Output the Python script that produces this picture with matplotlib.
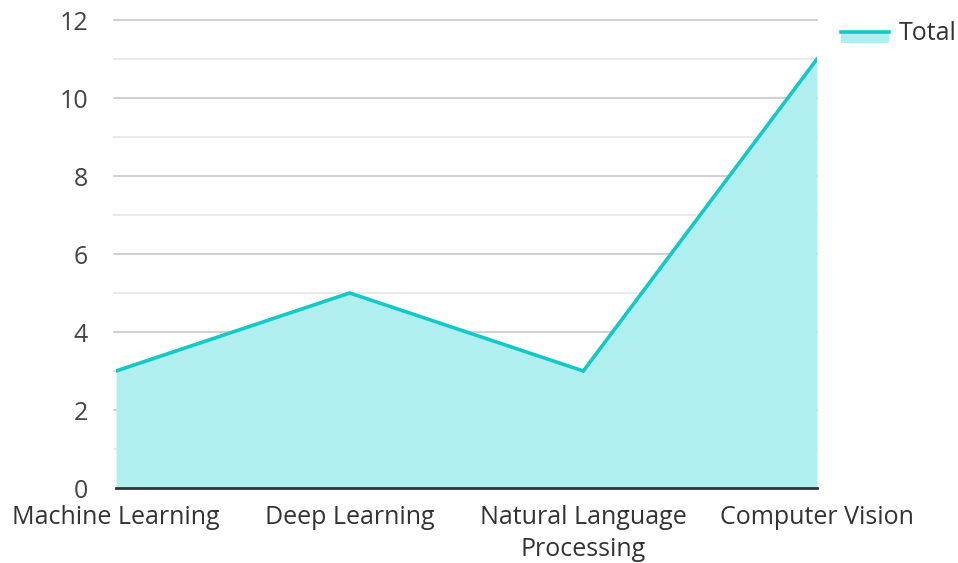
import matplotlib.pyplot as plt
from matplotlib.patches import Rectangle
from matplotlib.lines import Line2D
from matplotlib.legend_handler import HandlerBase

plt.rcParams["font.family"] = ["Open Sans", "DejaVu Sans"]

categories = ["Machine Learning", "Deep Learning", "Natural Language\nProcessing", "Computer Vision"]
totals = [3, 5, 3, 11]
y_ticks = [0, 2, 4, 6, 8, 10, 12]

line_color = "#14c8c8"
fill_color = "#b0efef"


class AreaHandler(HandlerBase):
    # legend marker: filled box with a thick line on its top edge
    def create_artists(self, legend, orig_handle, xdescent, ydescent, width, height, fontsize, trans):
        top = -ydescent + height * 0.45
        box = Rectangle((-xdescent, top - 8), width, 8,
                        facecolor=fill_color, edgecolor="none", transform=trans)
        ln = Line2D([-xdescent, -xdescent + width], [top, top], color=line_color, lw=2.6, transform=trans)
        return [box, ln]


fig = plt.figure(figsize=(9.58, 5.63), dpi=100)
ax = fig.add_axes([116 / 958, 1 - 488 / 563, (817 - 116) / 958, (488 - 20) / 563])

x = list(range(len(categories)))
ax.fill_between(x, totals, 0, color=fill_color, lw=0, zorder=2)
ax.plot(x, totals, color=line_color, lw=2.6, zorder=3, solid_joinstyle="miter")

ax.set_xlim(0, len(categories) - 1)
ax.set_ylim(0, 12)
ax.set_xticks(x)
ax.set_xticklabels(categories, fontsize=18, color="#333333", linespacing=1.4)
ax.set_yticks(y_ticks)
ax.set_yticklabels([str(v) for v in y_ticks], fontsize=18, color="#444444")
ax.set_yticks(range(1, 12, 2), minor=True)
ax.tick_params(axis="y", which="both", length=0, pad=20)
ax.tick_params(axis="x", length=0, pad=12)

for v in y_ticks[1:]:
    ax.axhline(v, color="#c8c8c8", lw=1.2, zorder=1, xmin=-0.003, clip_on=False)
for v in range(1, 12, 2):
    ax.axhline(v, color="#e6e6e6", lw=1.2, zorder=1, xmin=-0.003, clip_on=False)

for s in ["top", "right", "left"]:
    ax.spines[s].set_visible(False)
ax.spines["bottom"].set_color("#333333")
ax.spines["bottom"].set_linewidth(2)
ax.spines["bottom"].set_zorder(4)

proxy = Rectangle((0, 0), 1, 1)
fig.legend([proxy], ["Total"], handler_map={Rectangle: AreaHandler()},
           loc="center left", bbox_to_anchor=(841 / 958, 1 - 33 / 563),
           frameon=False, fontsize=18, handlelength=1.9, handletextpad=0.4,
           labelcolor="#333333", borderpad=0.0, borderaxespad=0.0)

fig.savefig("out.png", dpi=100)
